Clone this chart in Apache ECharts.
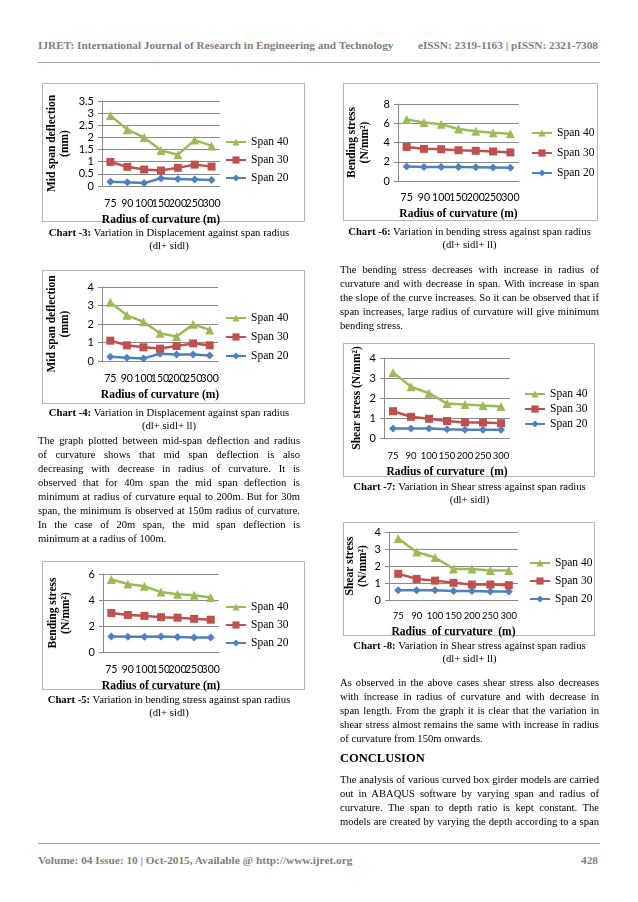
<!DOCTYPE html>
<html>
<head>
<meta charset="utf-8">
<script src="https://cdn.jsdelivr.net/npm/echarts@6.0.0/dist/echarts.min.js"></script>
<style>
  html,body{margin:0;padding:0;background:#fff;}
  body{width:638px;height:902px;position:relative;overflow:hidden;font-family:"Liberation Serif","Times New Roman",serif;color:#000;}
  .abs{position:absolute;}
  .hdr{font-weight:bold;color:#808080;font-size:11.3px;line-height:14px;white-space:nowrap;}
  .rule{position:absolute;height:0;border-top:1.5px solid #a0a0a0;}
  .box{position:absolute;border:1px solid #b4b4b4;box-sizing:border-box;}
  .chart{position:absolute;}
  .cap{position:absolute;text-align:center;font-size:10.7px;line-height:13px;white-space:nowrap;}
  .para{position:absolute;font-size:10.6px;line-height:14px;}
  .para div{text-align:justify;text-align-last:justify;}
  .para div.last{text-align:left;text-align-last:left;}
  .head{position:absolute;font-weight:bold;font-size:12.5px;line-height:14px;}
</style>
</head>
<body>
<div class="abs hdr" style="left:38px;top:38px;">IJRET: International Journal of Research in Engineering and Technology</div>
<div class="abs hdr" style="right:40px;top:38px;">eISSN: 2319-1163 | pISSN: 2321-7308</div>
<div class="rule" style="left:38px;top:62px;width:562px;"></div>

<div class="box" id="b3"></div><div class="chart" id="c3"></div>
<div class="cap" style="left:38px;width:262px;top:226px;"><b>Chart -3:</b> Variation in Displacement against span radius<br>(dl+ sidl)</div>

<div class="box" id="b4"></div><div class="chart" id="c4"></div>
<div class="cap" style="left:38px;width:262px;top:406px;"><b>Chart -4:</b> Variation in Displacement against span radius<br>(dl+ sidl+ ll)</div>

<div class="para" style="left:38px;top:434px;width:262px;">
  <div>The graph plotted between mid-span deflection and radius</div>
  <div>of curvature shows that mid span deflection is also</div>
  <div>decreasing with decrease in radius of curvature. It is</div>
  <div>observed that for 40m span the mid span deflection is</div>
  <div>minimum at radius of curvature equal to 200m. But for 30m</div>
  <div>span, the minimum is observed at 150m radius of curvature.</div>
  <div>In the case of 20m span, the mid span deflection is</div>
  <div class="last">minimum at a radius of 100m.</div>
</div>

<div class="box" id="b5"></div><div class="chart" id="c5"></div>
<div class="cap" style="left:38px;width:262px;top:693px;"><b>Chart -5:</b> Variation in bending stress against span radius<br>(dl+ sidl)</div>

<div class="box" id="b6"></div><div class="chart" id="c6"></div>
<div class="cap" style="left:340px;width:259px;top:225px;"><b>Chart -6:</b> Variation in bending stress against span radius<br>(dl+ sidl+ ll)</div>

<div class="para" style="left:340px;top:263px;width:259px;">
  <div>The bending stress decreases with increase in radius of</div>
  <div>curvature and with decrease in span. With increase in span</div>
  <div>the slope of the curve increases. So it can be observed that if</div>
  <div>span increases, large radius of curvature will give minimum</div>
  <div class="last">bending stress.</div>
</div>

<div class="box" id="b7"></div><div class="chart" id="c7"></div>
<div class="cap" style="left:340px;width:259px;top:480px;"><b>Chart -7:</b> Variation in Shear stress against span radius<br>(dl+ sidl)</div>

<div class="box" id="b8"></div><div class="chart" id="c8"></div>
<div class="cap" style="left:340px;width:259px;top:639px;"><b>Chart -8:</b> Variation in Shear stress against span radius<br>(dl+ sidl+ ll)</div>

<div class="para" style="left:340px;top:676px;width:259px;">
  <div>As observed in the above cases shear stress also decreases</div>
  <div>with increase in radius of curvature and with decrease in</div>
  <div>span length. From the graph it is clear that the variation in</div>
  <div>shear stress almost remains the same with increase in radius</div>
  <div class="last">of curvature from 150m onwards.</div>
</div>

<div class="head" style="left:340px;top:751px;">CONCLUSION</div>

<div class="para" style="left:340px;top:773px;width:259px;">
  <div>The analysis of various curved box girder models are carried</div>
  <div>out in ABAQUS software by varying span and radius of</div>
  <div>curvature. The span to depth ratio is kept constant. The</div>
  <div>models are created by varying the depth according to a span</div>
</div>

<div class="rule" style="left:38px;top:843px;width:562px;"></div>
<div class="abs hdr" style="left:38px;top:853px;">Volume: 04 Issue: 10 | Oct-2015, Available @ http://www.ijret.org</div>
<div class="abs hdr" style="right:40px;top:853px;">428</div>

<script>
// ---------- data ----------
const categories = ['75', '90', '100', '150', '200', '250', '300'];
const seriesNames = ['Span 40', 'Span 30', 'Span 20'];

// Chart 3: mid span deflection (dl+sidl)
const c3Span40 = [2.90, 2.32, 2.00, 1.46, 1.29, 1.89, 1.65];
const c3Span30 = [0.99, 0.79, 0.68, 0.64, 0.75, 0.88, 0.80];
const c3Span20 = [0.17, 0.15, 0.12, 0.32, 0.29, 0.27, 0.25];
// Chart 4: mid span deflection (dl+sidl+ll)
const c4Span40 = [3.17, 2.47, 2.12, 1.50, 1.32, 1.98, 1.68];
const c4Span30 = [1.10, 0.85, 0.74, 0.67, 0.81, 0.95, 0.85];
const c4Span20 = [0.23, 0.18, 0.14, 0.39, 0.35, 0.35, 0.30];
// Chart 5: bending stress (dl+sidl)
const c5Span40 = [5.58, 5.23, 5.06, 4.61, 4.44, 4.37, 4.19];
const c5Span30 = [3.00, 2.85, 2.78, 2.68, 2.64, 2.55, 2.48];
const c5Span20 = [1.20, 1.17, 1.17, 1.20, 1.15, 1.12, 1.12];
// Chart 6: bending stress (dl+sidl+ll)
const c6Span40 = [6.38, 6.08, 5.90, 5.40, 5.16, 5.02, 4.92];
const c6Span30 = [3.54, 3.34, 3.30, 3.20, 3.14, 3.07, 2.97];
const c6Span20 = [1.50, 1.45, 1.45, 1.45, 1.44, 1.41, 1.38];
// Chart 7: shear stress (dl+sidl)
const c7Span40 = [3.27, 2.56, 2.24, 1.72, 1.67, 1.62, 1.58];
const c7Span30 = [1.34, 1.06, 0.96, 0.85, 0.78, 0.77, 0.74];
const c7Span20 = [0.48, 0.48, 0.48, 0.44, 0.41, 0.41, 0.41];
// Chart 8: shear stress (dl+sidl+ll)
const c8Span40 = [3.62, 2.82, 2.50, 1.83, 1.83, 1.73, 1.73];
const c8Span30 = [1.54, 1.24, 1.14, 1.01, 0.91, 0.91, 0.87];
const c8Span20 = [0.57, 0.57, 0.57, 0.53, 0.53, 0.50, 0.50];

// y-axis tick settings
const c3Ticks = {max: 3.5, interval: 0.5};
const c4Ticks = {max: 4, interval: 1};
const c5Ticks = {max: 6, interval: 2};
const c6Ticks = {max: 8, interval: 2};
const c7Ticks = {max: 4, interval: 1};
const c8Ticks = {max: 4, interval: 1};

// ---------- styling ----------
const GREEN = '#9BBB59', RED = '#C0504D', BLUE = '#4F81BD', GRID = '#8a8a8a';
const SERIF = 'Liberation Serif';
const SANS = 'Lato';
const PAD = 7; // canvas extends beyond the drawn frame so nothing is clipped

function build(id, box, data, ticks, yName, xName, L) {
  const b = document.getElementById('b' + id.slice(1));
  Object.assign(b.style, {left: box.l + 'px', top: box.t + 'px', width: box.w + 'px', height: box.h + 'px'});
  const el = document.getElementById(id);
  Object.assign(el.style, {left: (box.l - PAD + 1) + 'px', top: (box.t - PAD + 1) + 'px',
    width: (box.w - 2 + 2 * PAD) + 'px', height: (box.h - 2 + 2 * PAD) + 'px'});
  const chart = echarts.init(el, null, {renderer: 'canvas'});
  const mk = (name, vals, color, symbol, size) => ({
    name, type: 'line', data: vals, symbol, symbolSize: size,
    itemStyle: {color}, lineStyle: {color, width: 2.5}, z: 3
  });
  chart.setOption({
    animation: false,
    grid: {left: L.gl + PAD, right: L.gr + PAD, top: L.gt + PAD, bottom: L.gb + PAD, containLabel: false, outerBoundsMode: 'none'},
    xAxis: {
      type: 'category', data: categories, boundaryGap: true,
      axisLine: {lineStyle: {color: GRID}}, axisTick: {show: false},
      axisLabel: {interval: 0, fontFamily: SANS, fontSize: L.xfs, color: '#000', margin: L.xm, hideOverlap: false},
      name: xName, nameLocation: 'middle', nameGap: L.xng,
      nameTextStyle: {fontFamily: SERIF, fontWeight: 'bold', fontSize: 11.5, color: '#000'}
    },
    yAxis: {
      type: 'value', min: 0, max: ticks.max, interval: ticks.interval,
      axisLine: {show: true, lineStyle: {color: GRID}},
      axisTick: {show: true, length: 4, lineStyle: {color: GRID}},
      splitLine: {lineStyle: {color: GRID}},
      axisLabel: {fontFamily: SANS, fontSize: 11, color: '#000', margin: 8},
      name: yName, nameLocation: 'middle', nameRotate: 90, nameGap: L.yng,
      nameTextStyle: {fontFamily: SERIF, fontWeight: 'bold', fontSize: 11.5, color: '#000', lineHeight: 13}
    },
    legend: {
      orient: 'vertical', left: L.ll + PAD, top: L.lt + PAD, padding: 0, itemWidth: 20, itemHeight: 9, itemGap: L.lg,
      data: seriesNames,
      textStyle: {fontFamily: SERIF, fontSize: 11.5, color: '#000'}
    },
    series: [
      mk(seriesNames[2], data[2], BLUE, 'diamond', 8),
      mk(seriesNames[1], data[1], RED, 'rect', 8),
      mk(seriesNames[0], data[0], GREEN, 'triangle', 9)
    ]
  });
}

build('c3', {l: 42, t: 83, w: 263, h: 139}, [c3Span40, c3Span30, c3Span20], c3Ticks,
  'Mid span deflection\n(mm)', 'Radius of curvature (m)',
  {gl: 59, gr: 84, gt: 17, gb: 35, xfs: 10.5, xm: 12, xng: 21, yng: 30, ll: 182, lt: 52, lg: 6});
build('c4', {l: 42, t: 270, w: 263, h: 134}, [c4Span40, c4Span30, c4Span20], c4Ticks,
  'Mid span deflection\n(mm)', 'Radius of curvature (m)',
  {gl: 59, gr: 86, gt: 16, gb: 42, xfs: 10.5, xm: 12, xng: 25, yng: 30, ll: 182, lt: 41, lg: 7});
build('c5', {l: 42, t: 561, w: 263, h: 129}, [c5Span40, c5Span30, c5Span20], c5Ticks,
  'Bending stress\n(N/mm²)', 'Radius of curvature (m)',
  {gl: 60, gr: 85, gt: 12, gb: 37, xfs: 10.5, xm: 12, xng: 20, yng: 30, ll: 182, lt: 39, lg: 6});
build('c6', {l: 343, t: 83, w: 255, h: 138}, [c6Span40, c6Span30, c6Span20], c6Ticks,
  'Bending stress\n(N/mm²)', 'Radius of curvature (m)',
  {gl: 54, gr: 78, gt: 20, gb: 39, xfs: 10.5, xm: 11, xng: 20, yng: 26, ll: 187, lt: 43, lg: 8});
build('c7', {l: 343, t: 343, w: 252, h: 134}, [c7Span40, c7Span30, c7Span20], c7Ticks,
  'Shear stress (N/mm²)', 'Radius of curvature  (m)',
  {gl: 40, gr: 84, gt: 14, gb: 38, xfs: 9.5, xm: 13, xng: 23, yng: 20, ll: 180, lt: 44, lg: 3});
build('c8', {l: 343, t: 522, w: 252, h: 114}, [c8Span40, c8Span30, c8Span20], c8Ticks,
  'Shear stress\n(N/mm²)', 'Radius  of curvature  (m)',
  {gl: 45, gr: 76, gt: 9, gb: 35, xfs: 9.5, xm: 11, xng: 19, yng: 19, ll: 185, lt: 34, lg: 6});
</script>
</body>
</html>
